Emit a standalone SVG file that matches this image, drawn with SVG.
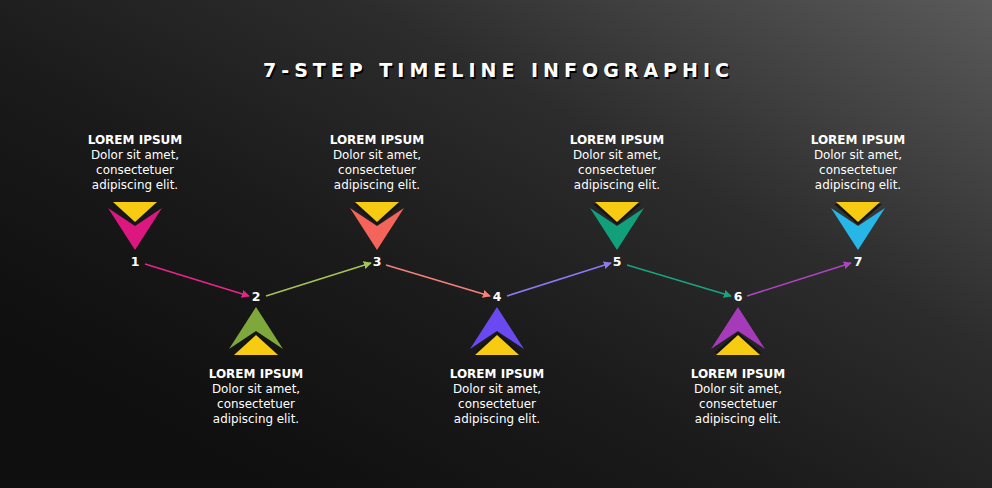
<svg xmlns="http://www.w3.org/2000/svg" xmlns:xlink="http://www.w3.org/1999/xlink" width="992" height="488" viewBox="0 0 992 488">
<defs>
<linearGradient id="bg" x1="0.1" y1="0.8" x2="1" y2="0">
<stop offset="0" stop-color="#0f0f0f"/>
<stop offset="0.3" stop-color="#1a1a1a"/>
<stop offset="0.6" stop-color="#2c2c2c"/>
<stop offset="1" stop-color="#5a5a5a"/>
</linearGradient>
<g id="chev">
<polygon points="-27,0 0,18 27,0 0,42"/>
<polygon points="-24,-4 24,-4 0,17" fill="#151515"/>
<polygon points="-22,-6 22,-6 0,14" fill="#f6cb12"/>
</g>
<marker id="m1" viewBox="0 0 10 10" refX="9" refY="5" markerWidth="8" markerHeight="8" markerUnits="userSpaceOnUse" orient="auto"><path d="M0,0 L10,5 L0,10 z" fill="#e8248a"/></marker>
<marker id="m2" viewBox="0 0 10 10" refX="9" refY="5" markerWidth="8" markerHeight="8" markerUnits="userSpaceOnUse" orient="auto"><path d="M0,0 L10,5 L0,10 z" fill="#a5c455"/></marker>
<marker id="m3" viewBox="0 0 10 10" refX="9" refY="5" markerWidth="8" markerHeight="8" markerUnits="userSpaceOnUse" orient="auto"><path d="M0,0 L10,5 L0,10 z" fill="#f4827a"/></marker>
<marker id="m4" viewBox="0 0 10 10" refX="9" refY="5" markerWidth="8" markerHeight="8" markerUnits="userSpaceOnUse" orient="auto"><path d="M0,0 L10,5 L0,10 z" fill="#8f79f2"/></marker>
<marker id="m5" viewBox="0 0 10 10" refX="9" refY="5" markerWidth="8" markerHeight="8" markerUnits="userSpaceOnUse" orient="auto"><path d="M0,0 L10,5 L0,10 z" fill="#17a581"/></marker>
<marker id="m6" viewBox="0 0 10 10" refX="9" refY="5" markerWidth="8" markerHeight="8" markerUnits="userSpaceOnUse" orient="auto"><path d="M0,0 L10,5 L0,10 z" fill="#b043c4"/></marker>
</defs>
<style>
.t{font-family:"DejaVu Sans","Liberation Sans",sans-serif;fill:#ffffff;text-anchor:middle;}
.h{font-size:12px;font-weight:bold;}
.b{font-size:11.9px;}
.n{font-family:"DejaVu Sans","Liberation Sans",sans-serif;font-size:12.5px;font-weight:bold;fill:#ffffff;text-anchor:middle;}
.title{font-family:"DejaVu Sans","Liberation Sans",sans-serif;font-size:19px;font-weight:bold;text-anchor:middle;}
.c line{stroke-width:1.6;fill:none;}
</style>
<rect width="992" height="488" fill="url(#bg)"/>
<text class="title" x="497.5" y="78.5" fill="#000000" textLength="466" lengthAdjust="spacing">7-STEP TIMELINE INFOGRAPHIC</text>
<text class="title" x="496" y="77" fill="#ffffff" textLength="466" lengthAdjust="spacing">7-STEP TIMELINE INFOGRAPHIC</text>

<g id="connectors" class="c">
<line x1="145" y1="264" x2="249" y2="296" stroke="#e8248a" marker-end="url(#m1)"/>
<line x1="266" y1="296" x2="371" y2="263" stroke="#a5c455" marker-end="url(#m2)"/>
<line x1="386" y1="265" x2="490" y2="296" stroke="#f4827a" marker-end="url(#m3)"/>
<line x1="507" y1="296" x2="611" y2="263" stroke="#8f79f2" marker-end="url(#m4)"/>
<line x1="627" y1="265" x2="731" y2="296" stroke="#17a581" marker-end="url(#m5)"/>
<line x1="747" y1="296" x2="851" y2="263" stroke="#b043c4" marker-end="url(#m6)"/>
</g>

<g id="node1">
<use xlink:href="#chev" transform="translate(135,208)" fill="#dc177f"/>
<text class="n" x="135" y="266">1</text>
<text class="t h" x="135" y="144">LOREM IPSUM</text>
<text class="t b" x="135" y="159">Dolor sit amet,</text>
<text class="t b" x="135" y="174">consectetuer</text>
<text class="t b" x="135" y="189">adipiscing elit.</text>
</g>
<g id="node2">
<use xlink:href="#chev" transform="translate(256,349) scale(1,-1)" fill="#7ea83c"/>
<text class="n" x="256" y="301">2</text>
<text class="t h" x="256" y="378">LOREM IPSUM</text>
<text class="t b" x="256" y="393">Dolor sit amet,</text>
<text class="t b" x="256" y="408">consectetuer</text>
<text class="t b" x="256" y="423">adipiscing elit.</text>
</g>
<g id="node3">
<use xlink:href="#chev" transform="translate(377,208)" fill="#f4645a"/>
<text class="n" x="377" y="266">3</text>
<text class="t h" x="377" y="144">LOREM IPSUM</text>
<text class="t b" x="377" y="159">Dolor sit amet,</text>
<text class="t b" x="377" y="174">consectetuer</text>
<text class="t b" x="377" y="189">adipiscing elit.</text>
</g>
<g id="node4">
<use xlink:href="#chev" transform="translate(497,349) scale(1,-1)" fill="#6a4af0"/>
<text class="n" x="497" y="301">4</text>
<text class="t h" x="497" y="378">LOREM IPSUM</text>
<text class="t b" x="497" y="393">Dolor sit amet,</text>
<text class="t b" x="497" y="408">consectetuer</text>
<text class="t b" x="497" y="423">adipiscing elit.</text>
</g>
<g id="node5">
<use xlink:href="#chev" transform="translate(617,208)" fill="#12a07b"/>
<text class="n" x="617" y="266">5</text>
<text class="t h" x="617" y="144">LOREM IPSUM</text>
<text class="t b" x="617" y="159">Dolor sit amet,</text>
<text class="t b" x="617" y="174">consectetuer</text>
<text class="t b" x="617" y="189">adipiscing elit.</text>
</g>
<g id="node6">
<use xlink:href="#chev" transform="translate(738,349) scale(1,-1)" fill="#a63bb9"/>
<text class="n" x="738" y="301">6</text>
<text class="t h" x="738" y="378">LOREM IPSUM</text>
<text class="t b" x="738" y="393">Dolor sit amet,</text>
<text class="t b" x="738" y="408">consectetuer</text>
<text class="t b" x="738" y="423">adipiscing elit.</text>
</g>
<g id="node7">
<use xlink:href="#chev" transform="translate(858,208)" fill="#27b6e8"/>
<text class="n" x="858" y="266">7</text>
<text class="t h" x="858" y="144">LOREM IPSUM</text>
<text class="t b" x="858" y="159">Dolor sit amet,</text>
<text class="t b" x="858" y="174">consectetuer</text>
<text class="t b" x="858" y="189">adipiscing elit.</text>
</g>
</svg>
